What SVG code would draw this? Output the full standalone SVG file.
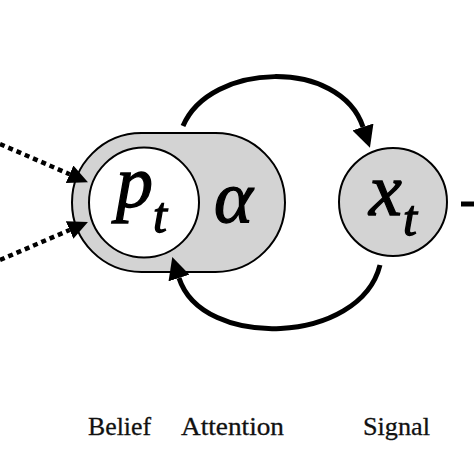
<svg xmlns="http://www.w3.org/2000/svg" width="474" height="474" viewBox="0 0 474 474">
<style>
.node{fill:#d3d3d3;stroke:#000;stroke-width:2}
.inner{fill:#fff;stroke:#000;stroke-width:2}
.math{font-family:"Liberation Serif","Times New Roman",serif;font-style:italic;fill:#000;stroke:#000;stroke-width:1.3}
.lbl{font-family:"Liberation Serif","Times New Roman",serif;font-size:26px;fill:#111;stroke:#111;stroke-width:0.3}
.arc{fill:none;stroke:#000;stroke-width:5}
.dot{fill:none;stroke:#000;stroke-width:4.5;stroke-dasharray:5 4}
</style>
<defs>
<marker id="ah" viewBox="0 0 10 10" refX="0" refY="5" markerUnits="userSpaceOnUse" markerWidth="22" markerHeight="22" orient="auto">
<path d="M0,0 L10,5 L0,10 z" fill="#000"/>
</marker>
<marker id="ahs" viewBox="0 0 10 10" refX="0" refY="5" markerUnits="userSpaceOnUse" markerWidth="20" markerHeight="19" orient="auto" preserveAspectRatio="none">
<path d="M0,0 L10,5 L0,10 z" fill="#000"/>
</marker>
</defs>
<g id="belief-attention">
<rect class="node" x="72" y="133" width="213" height="139" rx="69.5" ry="69.5"/>
<circle class="inner" cx="144" cy="202.5" r="55"/>
<text class="math" x="116" y="207" font-size="74">p<tspan x="153" y="232" font-size="50">t</tspan></text>
<text class="math" x="214" y="222" font-size="74">α</text>
</g>
<g id="signal">
<circle class="node" cx="393" cy="202" r="54"/>
<text class="math" x="369" y="215" font-size="74">x<tspan x="403" y="235" font-size="50">t</tspan></text>
</g>
<g id="connectors">
<path class="arc" d="M183,126 C210,62 340,58 363,127" marker-end="url(#ah)"/>
<path class="arc" d="M380,265 C360,345 202,350 179,278" marker-end="url(#ah)"/>
<path class="dot" d="M0,144 L69.6,174.2" marker-end="url(#ahs)"/>
<path class="dot" d="M0,260 L69.6,230" marker-end="url(#ahs)"/>
<path d="M461,204 L474,204" stroke="#000" stroke-width="5"/>
</g>
<g id="labels">
<text class="lbl" x="88" y="435" textLength="63" lengthAdjust="spacingAndGlyphs">Belief</text>
<text class="lbl" x="181" y="435" textLength="103" lengthAdjust="spacingAndGlyphs">Attention</text>
<text class="lbl" x="363" y="435" textLength="67" lengthAdjust="spacingAndGlyphs">Signal</text>
</g>
</svg>
